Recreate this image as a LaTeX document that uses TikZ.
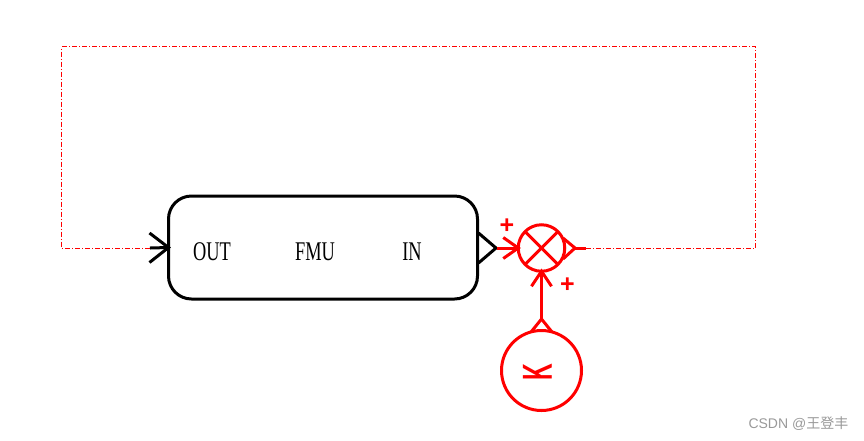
\documentclass[tikz,border=0pt]{standalone}
\usepackage{fontspec}
\setmainfont{Liberation Serif}
\newfontfamily\narrowserif[FakeStretch=0.68]{Liberation Serif}
\newfontfamily\kfont[FakeStretch=0.55]{Liberation Sans}
\newfontfamily\sansf{Liberation Sans}
\newfontfamily\cjk{Noto Sans CJK SC}
\tikzset{
  blk/.style={draw=black,line width=3pt,line join=miter},
  redl/.style={draw=red,line width=3pt},
  feedback/.style={draw=red,line width=0.8pt,dash pattern=on 5pt off 2pt on 1pt off 2pt},
  lbl/.style={font=\narrowserif\fontsize{27}{27}\selectfont,inner sep=0pt,text=black},
  plus/.style={font=\sansf\fontsize{25}{25}\selectfont\bfseries,inner sep=0pt,text=red}
}
\begin{document}
\begin{tikzpicture}[x=1pt,y=-1pt]
\useasboundingbox (0,0) rectangle (864,440);
\node[blk,outer sep=0pt,rounded corners=23pt,minimum width=309pt,minimum height=103pt,inner sep=0pt] (fmu) at (323,247.5) {};
\node[lbl] (out) at (212,252) {OUT};
\node[lbl] (name) at (315,252) {FMU};
\node[lbl] (in) at (412,252) {IN};
\node[redl,outer sep=0pt,circle,minimum size=46.5pt,inner sep=0pt] (sum) at (541.5,248) {};
\node[redl,outer sep=0pt,circle,minimum size=80pt,inner sep=0pt] (gain) at (541.5,370.5) {};
\node[rotate=90,inner sep=0pt,text=red,font=\kfont\fontsize{42}{42}\selectfont\bfseries] (k) at (537.5,372) {K};
\draw[redl] (sum.45) -- (sum.225);
\draw[redl] (sum.135) -- (sum.315);
\node[plus] (p1) at (507,226.5) {+};
\node[plus] (p2) at (567.5,285.5) {+};
% output of FMU
\coordinate (fo1) at (478.5,233);
\coordinate (fo) at (496,248);
\coordinate (fo2) at (478.5,263);
\draw[blk] (fo1) -- (fo) -- (fo2);
% sum input
\coordinate (si) at (497,248);
\draw[redl] (si) -- (sum.west);
\draw[redl] (sum.west) ++(-15,-10.5) -- (sum.west) -- ++(-15,10.5);
% sum output
\coordinate (so1) at (563,238);
\coordinate (so) at (575,248);
\coordinate (so2) at (563,259);
\coordinate (se) at (586,248);
\draw[redl] (so1) -- (so) -- (so2);
\draw[redl] (so) -- (se);
% gain output
\coordinate (gt) at (541.5,319);
\coordinate (g1) at (531,332);
\coordinate (g2) at (552,332);
\draw[redl] (g1) -- (gt) -- (g2);
\draw[redl] (gt) -- (sum.south);
\draw[redl] (sum.south) ++(-10,15) -- (sum.south) -- ++(10,15);
% feedback
\coordinate (c1) at (755.5,248);
\coordinate (c2) at (755.5,46.5);
\coordinate (c3) at (61.5,46.5);
\coordinate (c4) at (61.5,248);
\coordinate (fi) at (150,248);
\draw[feedback] (se) -- (c1) -- (c2) -- (c3) -- (c4) -- (fi);
\draw[blk] (fi) -- (fmu.west);
\draw[blk] (fmu.west) ++(-19,-14.5) -- (fmu.west) -- ++(-19,15);
\node[anchor=east,inner sep=0pt,text=black!40,font=\sansf\fontsize{14}{14}\selectfont] (wm) at (848.5,424) {CSDN @{\cjk 王登丰}};
\end{tikzpicture}
\end{document}
